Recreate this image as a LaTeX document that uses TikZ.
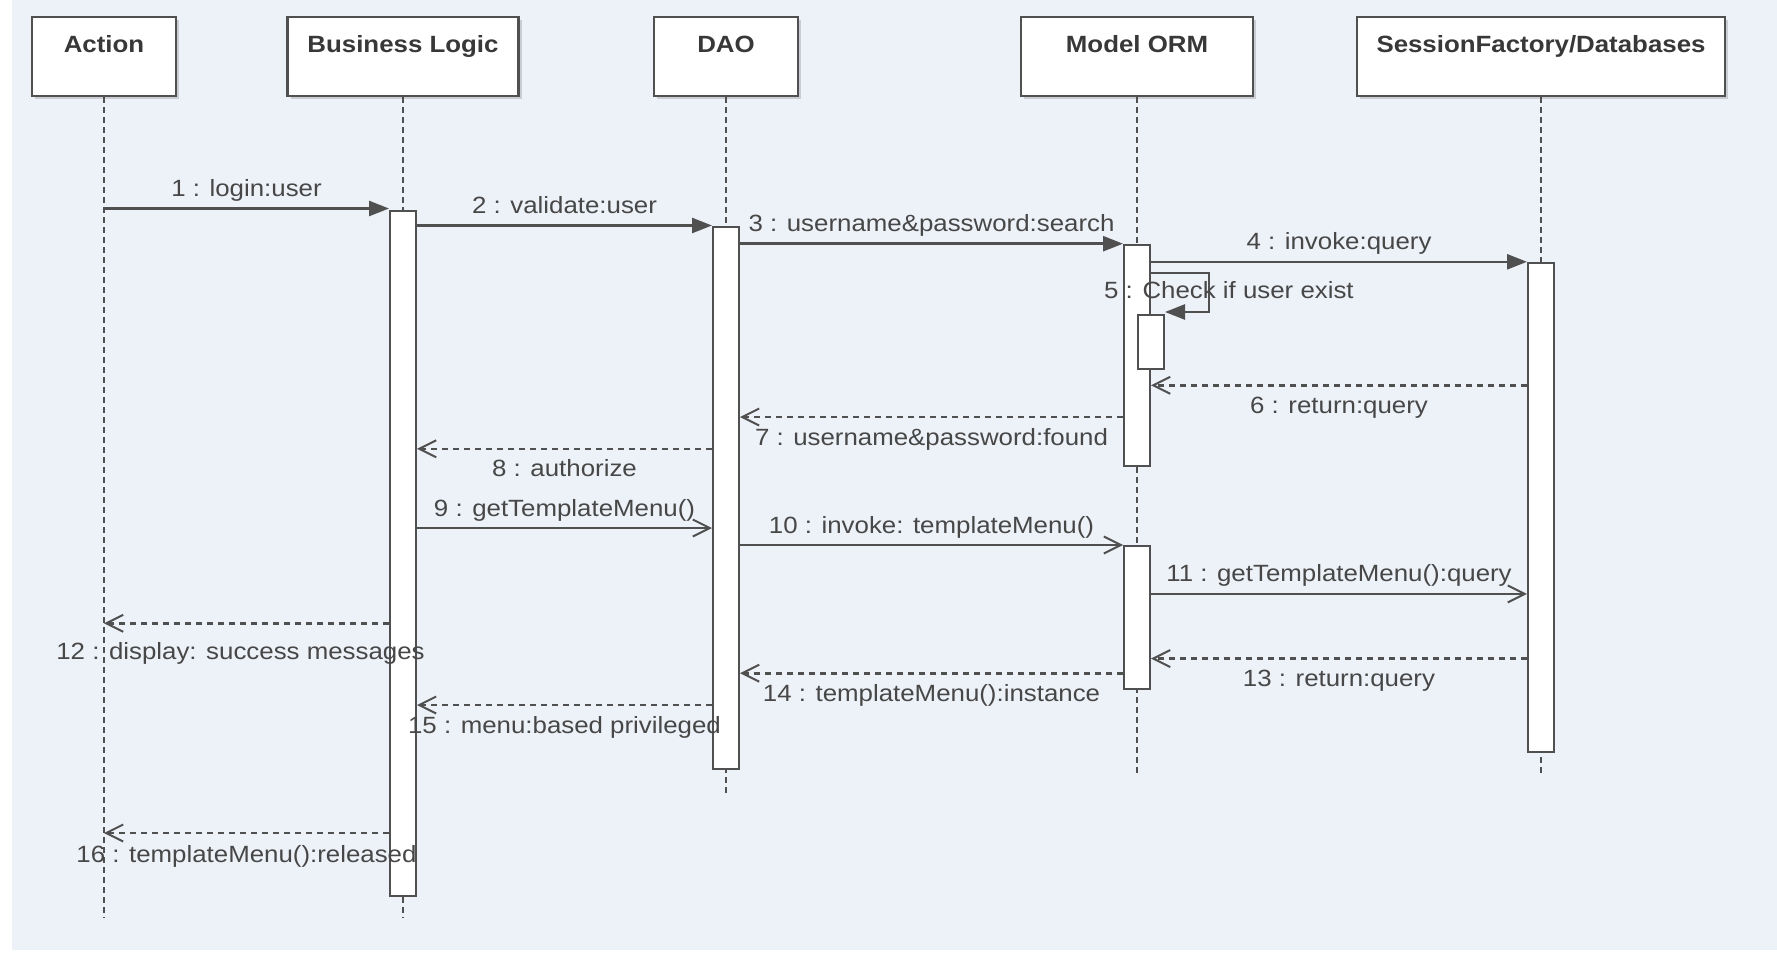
\documentclass[tikz,border=0pt]{standalone}
\usepackage{fontspec}
\setmainfont{Liberation Sans}[FakeStretch=1.1]
\usetikzlibrary{arrows.meta,shadows}
\definecolor{bg}{HTML}{EDF1F8}
\definecolor{ln}{HTML}{505050}
\definecolor{tx}{HTML}{474747}
\definecolor{htx}{HTML}{383838}
\begin{document}
\begin{tikzpicture}[x=1pt,y=-1pt,
  hdr/.style={draw=ln, line width=2.2pt, fill=white, minimum height=79pt, inner sep=0pt,
    font=\fontsize{23.5}{28}\selectfont\bfseries, text=htx, text height=17pt, text depth=26pt,
    drop shadow={shadow xshift=3pt,shadow yshift=-3pt,opacity=0.15,fill=black}},
  life/.style={draw=ln, line width=1.8pt, dash pattern=on 6pt off 4pt},
  bar/.style={draw=ln, line width=2pt, fill=white, minimum width=26pt, inner sep=0pt, anchor=north},
  call/.style={draw=ln, line width=2.6pt, -{Triangle[length=20pt,width=15pt]}},
  async/.style={draw=ln, line width=2.6pt, -{Straight Barb[length=17pt,width=17pt,line width=2pt]}},
  ret/.style={draw=ln, line width=2.6pt, dash pattern=on 6.5pt off 4.5pt, -{Straight Barb[length=17pt,width=17pt,line width=2pt]}},
  lbl/.style={font=\fontsize{23.5}{28}\selectfont, text=tx, inner sep=0pt, anchor=base},
  up/.style={lbl, midway, yshift=12pt},
  dn/.style={lbl, midway, yshift=-28pt},
]
\useasboundingbox (0,0) rectangle (1777,953);
\fill[bg] (12,0) rectangle (1777,950);

% headers
\node[hdr, minimum width=144pt] (A) at (104,56.5) {Action};
\node[hdr, minimum width=231pt] (B) at (403,56.5) {Business Logic};
\node[hdr, minimum width=144pt] (D) at (726,56.5) {DAO};
\node[hdr, minimum width=232pt] (M) at (1137,56.5) {Model ORM};
\node[hdr, minimum width=368pt] (S) at (1541,56.5) {SessionFactory/Databases};

% lifeline ends
\coordinate (Ae) at (104,918);
\coordinate (Be) at (403,918);
\coordinate (De) at (726,793);
\coordinate (Me) at (1137,774);
\coordinate (Se) at (1541,774);
\draw[life] (A.south) -- (Ae);
\draw[life] (B.south) -- (Be);
\draw[life] (D.south) -- (De);
\draw[life] (M.south) -- (Me);
\draw[life] (S.south) -- (Se);

% activation bars
\node[bar, minimum height=685.6pt] (bB) at (403,209.7) {};
\node[bar, minimum height=542.9pt] (bD) at (726,225.5) {};
\node[bar, minimum height=221pt] (bM1) at (1137,243.7) {};
\node[bar, minimum height=143pt] (bM2) at (1137,545) {};
\node[bar, minimum height=54pt] (bM3) at (1151,314) {};
\node[bar, minimum height=489.6pt] (bS) at (1541,261.8) {};

% messages
\draw[call] (A |- 0,208.5) -- (bB.west |- 0,208.5) node[up] {1 : login:user};
\draw[call] (bB.east |- 0,225.5) -- (bD.west |- 0,225.5) node[up] {2 : validate:user};
\draw[call] (bD.east |- 0,243.7) -- (bM1.west |- 0,243.7) node[up] {3 : username\&password:search};
\draw[call] (bM1.east |- 0,261.8) -- (bS.west |- 0,261.8) node[up] {4 : invoke:query};
\draw[call] (bM1.east |- 0,273) coordinate (s5) -- (1209,273) -- (1209,312) -- (bM3.east |- 0,312);
\node[lbl, anchor=base west] at ([xshift=-47pt,yshift=-25pt]s5) {5 : Check if user exist};
\draw[ret] (bS.west |- 0,385.3) -- (bM1.east |- 0,385.3) node[dn] {6 : return:query};
\draw[ret] (bM1.west |- 0,417) -- (bD.east |- 0,417) node[dn] {7 : username\&password:found};
\draw[ret] (bD.west |- 0,448.8) -- (bB.east |- 0,448.8) node[dn] {8 : authorize};
\draw[async] (bB.east |- 0,528) -- (bD.west |- 0,528) node[up] {9 : getTemplateMenu()};
\draw[async] (bD.east |- 0,545) -- (bM2.west |- 0,545) node[up] {10 : invoke: templateMenu()};
\draw[async] (bM2.east |- 0,593.9) -- (bS.west |- 0,593.9) node[up] {11 : getTemplateMenu():query};
\draw[ret] (bB.west |- 0,623.3) -- (A |- 0,623.3) node[dn, yshift=-8pt, xshift=-6pt] {12 : display: success messages};
\draw[ret] (bS.west |- 0,658.5) -- (bM2.east |- 0,658.5) node[dn] {13 : return:query};
\draw[ret] (bM2.west |- 0,673.2) -- (bD.east |- 0,673.2) node[dn] {14 : templateMenu():instance};
\draw[ret] (bD.west |- 0,705) -- (bB.east |- 0,705) node[dn] {15 : menu:based privileged};
\draw[ret] (bB.west |- 0,833) -- (A |- 0,833) node[dn, yshift=-1pt] {16 : templateMenu():released};
\end{tikzpicture}
\end{document}
